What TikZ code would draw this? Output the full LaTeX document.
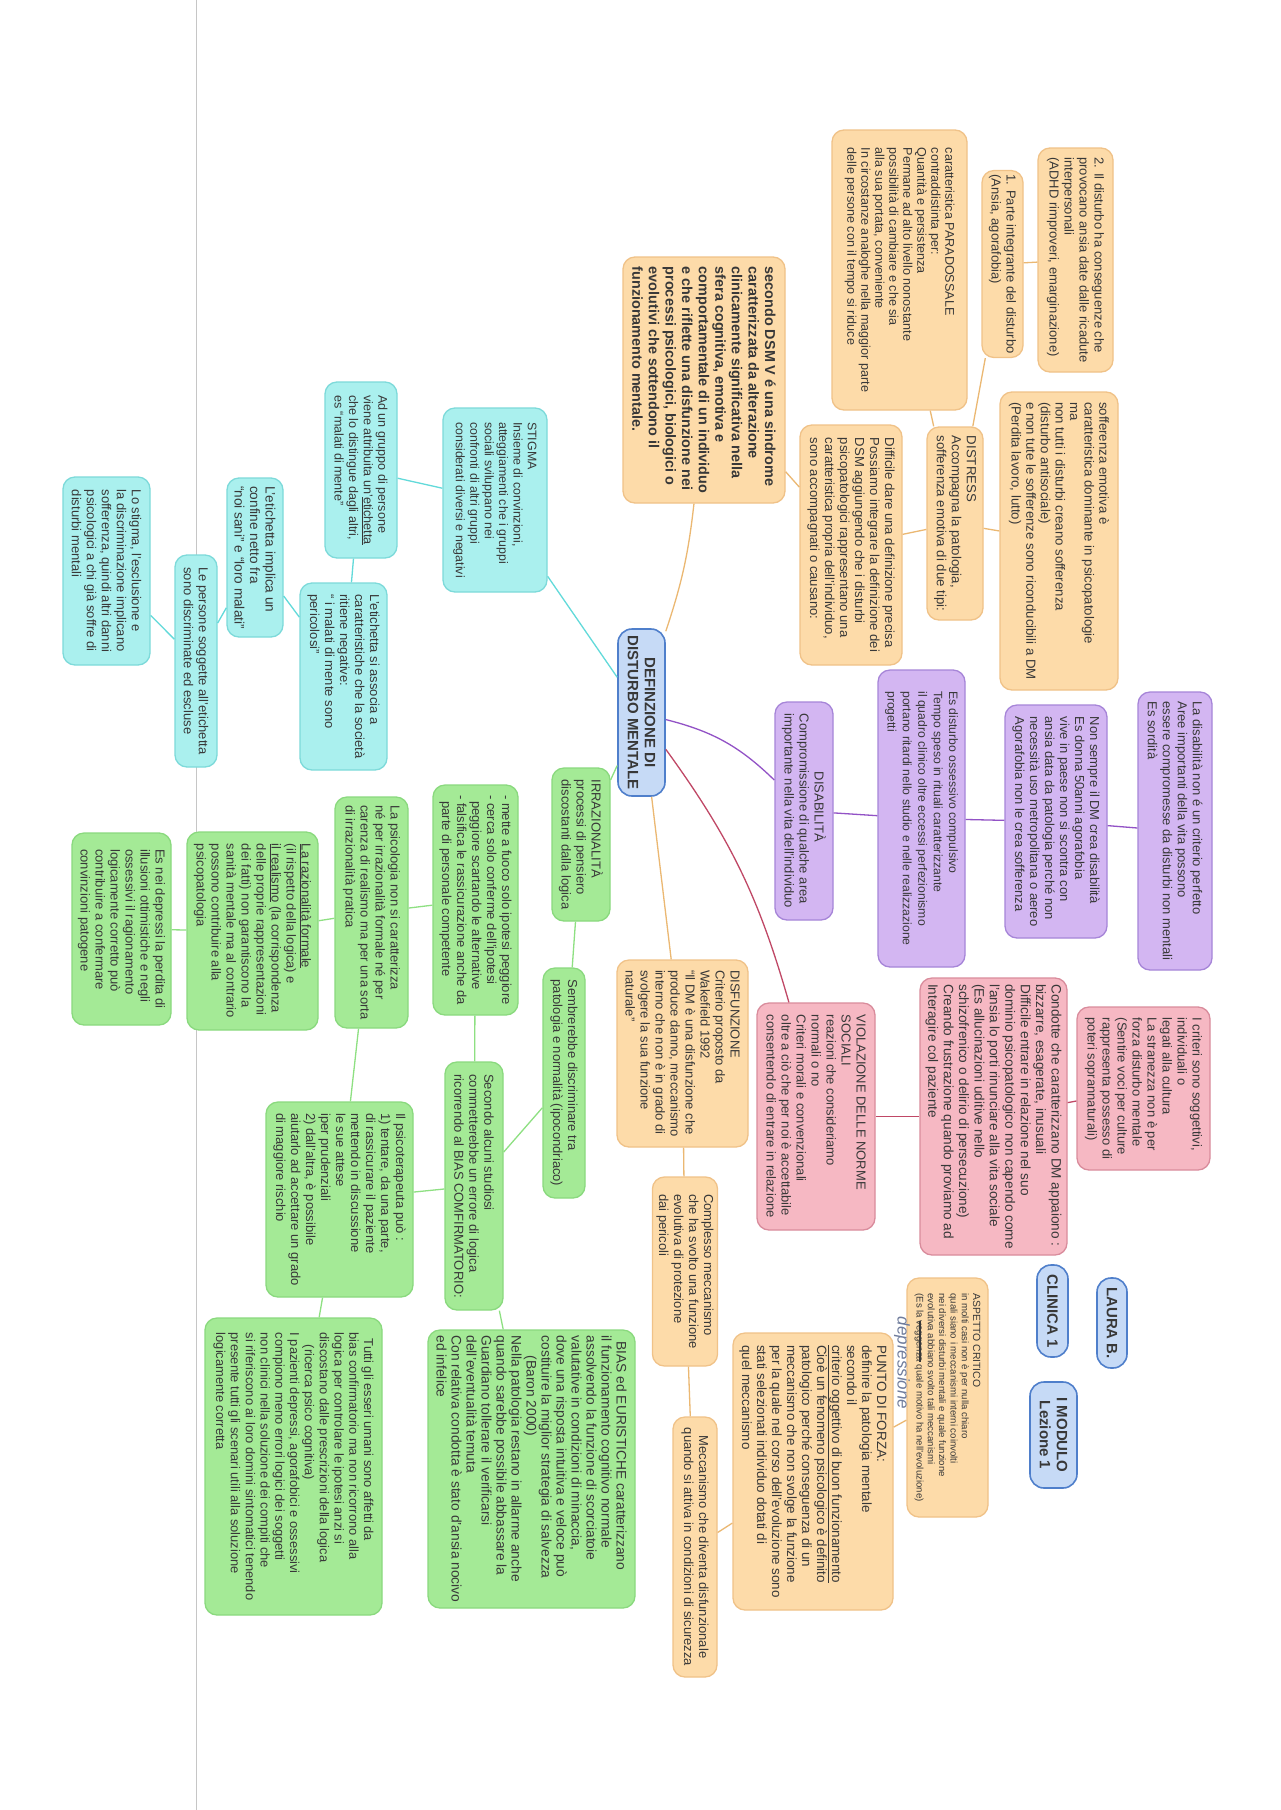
\documentclass[tikz,border=0pt]{standalone}
\usepackage{fontspec}
\setmainfont{Liberation Sans}
\usepackage{tikz}

\definecolor{ofill}{HTML}{FDDBA9}
\definecolor{oline}{HTML}{F0C288}
\definecolor{olk}{HTML}{EBB872}
\definecolor{pfill}{HTML}{D3B6F2}
\definecolor{pline}{HTML}{A685D8}
\definecolor{plk}{HTML}{9252C6}
\definecolor{rfill}{HTML}{F6B8C3}
\definecolor{rline}{HTML}{D98C9C}
\definecolor{rlk}{HTML}{C04866}
\definecolor{gfill}{HTML}{A4EA96}
\definecolor{gline}{HTML}{8AD97E}
\definecolor{glk}{HTML}{8EE082}
\definecolor{cfill}{HTML}{AAF0EE}
\definecolor{cline}{HTML}{7DDADA}
\definecolor{clk}{HTML}{62DADA}
\definecolor{bfill}{HTML}{C6DAF6}
\definecolor{bline}{HTML}{4F7FCB}
\definecolor{ink}{HTML}{383838}
\definecolor{pen}{HTML}{6F7C9C}

\newcommand{\boxfont}{\fontsize{13}{15}\selectfont}
\newsavebox{\strkbox}
\newcommand{\strk}[1]{\sbox{\strkbox}{#1}\rlap{\rule[0.28em]{\wd\strkbox}{1.2pt}}\usebox{\strkbox}}

\tikzset{
  fs/.style 2 args={font=\fontsize{#1}{#2}\selectfont},
  fsb/.style 2 args={font=\fontsize{#1}{#2}\selectfont\bfseries},
  box/.style={rotate=-90, rectangle, rounded corners=12pt, line width=1.3pt,
    align=left, inner sep=4pt, text=ink, font=\boxfont},
  obox/.style={box, fill=ofill, draw=oline},
  pbox/.style={box, fill=pfill, draw=pline},
  rbox/.style={box, fill=rfill, draw=rline},
  gbox/.style={box, fill=gfill, draw=gline},
  cbox/.style={box, fill=cfill, draw=cline},
  tbox/.style={box, fill=bfill, draw=bline, line width=1.6pt, align=center,
    rounded corners=14pt, fsb={15}{17}},
  olink/.style={draw=olk, line width=1.3pt},
  plink/.style={draw=plk, line width=1.3pt},
  rlink/.style={draw=rlk, line width=1.3pt},
  glink/.style={draw=glk, line width=1.3pt},
  clink/.style={draw=clk, line width=1.3pt},
}

\begin{document}
\begin{tikzpicture}[x=1pt,y=-1pt]
\fill[white] (0,0) rectangle (1280,1810);
\useasboundingbox (0,0) rectangle (1280,1810);
% faint scan line
\draw[gray!45, line width=0.8pt] (196,0) -- (196,1810);

% centre
\node[tbox, minimum width=167, minimum height=47] (centro) at (641.5,712.5) {DEFINZIONE DI\\DISTURBO MENTALE};

% labels
\node[tbox, minimum width=90, minimum height=30] (laura) at (1112,1323) {LAURA B.};
\node[tbox, minimum width=92, minimum height=31] (clinica) at (1052.5,1311) {CLINICA 1};
\node[tbox, minimum width=106, minimum height=47] (modulo) at (1053.5,1435) {I MODULO\\Lezione 1};

% orange branch: DSM
\node[obox, fsb={14.4}{16.6}, minimum width=246, minimum height=162] (dsm) at (704,380) {secondo DSM V é una sindrome\\caratterizzata da alterazione\\clinicamente significativa nella\\sfera cognitiva, emotiva e\\comportamentale di un individuo\\e che riflette una disfunzione nei\\processi psicologici, biologici o\\evolutivi che sottendono il\\funzionamento mentale.};
\node[obox, fs={13.1}{15}, minimum width=240, minimum height=102] (diffic) at (851,545) {Difficile dare una definizione precisa\\Possiamo integrare la definizione dei\\DSM aggiungendo che i disturbi\\psicopatologici rappresentano una\\caratteristica propria dell'individuo,\\sono accompagnati o causano:};
\node[obox, fs={13.2}{15}, minimum width=193, minimum height=56] (distress) at (955,523.5) {DISTRESS\\Accompagna la patologia,\\sofferenza emotiva di due tipi:};
\node[obox, fs={13.2}{14.6}, minimum width=298, minimum height=118] (soffer) at (1059,541) {sofferenza emotiva è\\caratteristica dominante in psicopatologie\\ma\\non tutti i disturbi creano sofferenza\\(disturbo antisociale)\\e non tute le sofferenze sono riconducibili a DM\\(Perdita lavoro, lutto)};
\node[obox, fs={12.6}{14}, minimum width=280, minimum height=135] (paradox) at (899.5,270) {caratteristica PARADOSSALE\\contraddistinta per:\\Quantità e persistenza\\Permane ad alto livello nonostante\\possibilità di cambiare e che sia\\alla sua portata, conveniente\\In circostanze analoghe nella maggior parte\\delle persone con il tempo si riduce};
\node[obox, minimum width=178, minimum height=41] (parte) at (1002.5,264) {1. Parte integrante del disturbo\\(Ansia, agorafobia)};
\node[obox, minimum width=224, minimum height=75] (ricadute) at (1075.5,260) {2. Il disturbo ha conseguenze che\\provocano ansia date dalle ricadute\\interpersonali\\(ADHD rimproveri, emarginazione)};

% orange branch: disfunzione
\node[obox, minimum width=187, minimum height=131] (disfunz) at (682.5,1053.5) {DISFUNZIONE\\Criterio proposto da\\Wakefield 1992\\“Il DM è una disfunzione che\\produce danno, meccanismo\\interno che non è in grado di\\svolgere la sua funzione\\naturale”};
\node[obox, minimum width=189, minimum height=64] (complesso) at (685,1271.5) {Complesso meccanismo\\che ha svolto una funzione\\evolutiva di protezione\\dai pericoli};
\node[obox, align=center, minimum width=260, minimum height=44] (meccdisf) at (695,1547) {Meccanismo che diventa disfunzionale\\quando si attiva in condizioni di sicurezza};
\node[obox, fs={13.4}{15}, minimum width=277, minimum height=160] (punto) at (813,1471.5) {PUNTO DI FORZA:\\definire la patologia mentale\\secondo il\\\underline{criterio oggettivo di buon funzionamento}\\Cioè un fenomeno psicologico è definito\\patologico perché conseguenza di un\\meccanismo che non svolge la funzione\\per la quale nel corso dell'evoluzione sono\\stati selezionati individuo dotati di\\quel meccanismo};
\node[obox, fs={9.6}{11.3}, minimum width=239, minimum height=81] (aspetto) at (947.5,1397.5) {{\fontsize{10.4}{11.3}\selectfont ASPETTO CRITICO}\\in molti casi non è per nulla chiaro\\quali siano i meccanismi interni coinvolti\\nei diversi disturbi mentali e quale funzione\\evolutiva abbiano svolto tali meccanismi\\(Es la \strk{veggenza} quale motivo ha nell'evoluzione)};
\node[rotate=-90, text=pen, font=\fontsize{17}{17}\selectfont\itshape] (nota) at (902,1363) {depressione};

% cyan branch: stigma
\node[cbox, fs={12.4}{14.4}, minimum width=184, minimum height=104] (stigma) at (495,500) {STIGMA\\Insieme di convinzioni,\\atteggiamenti che i gruppi\\sociali sviluppano nei\\confronti di altri gruppi\\considerati diversi e negativi};
\node[cbox, fs={12.6}{14.6}, minimum width=176, minimum height=72] (gruppo) at (361,470) {Ad un gruppo di persone\\viene attribuita un'\underline{etichetta}\\che lo distingue dagli altri,\\es “malati di mente”};
\node[cbox, minimum width=187, minimum height=87] (associa) at (343.5,676.5) {L'etichetta si associa a\\caratteristiche che la società\\ritiene negative:\\“ i malati di mente sono\\pericolosi”};
\node[cbox, fs={13.6}{15.6}, minimum width=159, minimum height=56] (implica) at (255,557.5) {L'etichetta implica un\\confine netto fra\\“noi sani” e “loro malati”};
\node[cbox, minimum width=212, minimum height=42] (escluse) at (196,661) {Le persone soggette all'etichetta\\sono discriminate ed escluse};
\node[cbox, minimum width=188, minimum height=87] (danni) at (106.5,571) {Lo stigma, l'esclusione e\\la discriminazione implicano\\sofferenza, quindi altri danni\\psicologici a chi già soffre di\\disturbi mentali};

% purple branch: disabilita
\node[pbox, minimum width=218, minimum height=58] (disab) at (804,811) {\hspace*{58pt}DISABILITÀ\\Compromissione di qualche area\\importante nella vita dell'individuo};
\node[pbox, fs={12.2}{15.4}, minimum width=297, minimum height=87] (ossess) at (921.5,818.5) {Es disturbo ossessivo compulsivo\\Tempo speso in rituali caratterizzante\\il quadro clinico oltre eccessi perfezionismo\\portano ritardi nello studio e nelle realizzazione\\progetti};
\node[pbox, minimum width=233, minimum height=102] (nonsempre) at (1056,821.5) {Non sempre il DM crea disabilità\\Es donna 50anni agorafobia\\vive in paese non si scontra con\\ansia data da patologia perché non\\necessità uso metropolitana o aereo\\Agorafobia non le crea sofferenza};
\node[pbox, minimum width=278, minimum height=74] (sordita) at (1175,831) {La disabilità non é un criterio perfetto\\Aree importanti della vita possono\\essere compromesse da disturbi non mentali\\Es sordità};

% red branch: norme sociali
\node[rbox, minimum width=227, minimum height=118] (violaz) at (816,1116.5) {VIOLAZIONE DELLE NORME\\SOCIALI\\reazioni che consideriamo\\normali o no\\Criteri morali e convenzionali\\oltre a ciò che per noi è accettabile\\consentendo di entrare in relazione};
\node[rbox, fs={13.6}{15.4}, minimum width=277, minimum height=147] (condotte) at (993.5,1116.5) {Condotte che caratterizzano DM appaiono :\\bizzarre, esagerate, inusuali\\Difficile entrare in relazione nel suo\\dominio psicopatologico non capendo come\\l'ansia lo porti rinunciare alla vita sociale\\(Es allucinazioni uditive nello\\schizofrenico o delirio di persecuzione)\\Creando frustrazione quando proviamo ad\\Interagire col paziente};
\node[rbox, minimum width=163, minimum height=133] (criteri) at (1143.5,1088.5) {I criteri sono soggettivi,\\individuali o\\legati alla cultura\\La stranezza non è per\\forza disturbo mentale\\(Sentire voci per culture\\rappresenta possesso di\\poteri soprannaturali)};

% green branch: irrazionalita
\node[gbox, minimum width=153, minimum height=58] (irraz) at (581,844.5) {IRRAZIONALITÀ\\processi di pensiero\\discostanti dalla logica};
\node[gbox, minimum width=230, minimum height=42] (sembra) at (564,1083) {Sembrerebbe discriminare tra\\patologia e normalità (ipocondriaco)};
\node[gbox, minimum width=248, minimum height=58] (secondo) at (474,1186) {Secondo alcuni studiosi\\commetterebbe un errore di logica\\ricorrendo al BIAS COMFIRMATORIO:};
\node[gbox, minimum width=230, minimum height=85] (mette) at (475.5,900) {- mette a fuoco solo ipotesi peggiore\\- cerca solo conferme dell'ipotesi\\\hspace*{6pt}peggiore scartando le alternative\\- falsifica le rassicurazione anche da\\\hspace*{6pt}parte di personale competente};
\node[gbox, minimum width=231, minimum height=73] (psicol) at (371.5,912.5) {La psicologia non si caratterizza\\né per irrazionalità formale né per\\carenza di realismo ma per una sorta\\di irrazionalità pratica};
\node[gbox, minimum width=198, minimum height=131] (razion) at (252.5,931) {\underline{La razionalità formale}\\(il rispetto della logica) e\\\underline{il realismo} (la corrispondenza\\delle proprie rappresentazioni\\dei fatti) non garantiscono la\\sanità mentale ma al contrario\\possono contribuire alla\\psicopatologia};
\node[gbox, minimum width=192, minimum height=99] (depressi) at (121.5,929) {Es nei depressi la perdita di\\illusioni ottimistiche e negli\\ossessivi il ragionamento\\logicamente corretto può\\contribuire a confermare\\convinzioni patogene};
\node[gbox, minimum width=195, minimum height=147] (terap) at (339.5,1199.5) {Il psicoterapeuta può :\\1) tentare, da una parte,\\di rassicurare il paziente\\mettendo in discussione\\le sue attese\\iper prudenziali\\2) dall'altra, è possibile\\aiutarlo ad accettare un grado\\di maggiore rischio};
\node[gbox, fs={13.8}{15}, minimum width=278, minimum height=207] (bias) at (531.5,1469) {\hspace*{6pt}BIAS ed EURISTICHE caratterizzano\\il funzionamento cognitivo normale\\assolvendo la funzione di scorciatoie\\valutative in condizioni di minaccia,\\dove una risposta intuitiva e veloce può\\costituire la miglior strategia di salvezza\\\hspace*{20pt}(Baron 2000)\\Nella patologia restano in allarme anche\\quando sarebbe possibile abbassare la\\Guardiano tollerare il verificarsi\\dell'eventualità temuta\\Con relativa condotta è stato d'ansia nocivo\\ed infelice};
\node[gbox, fs={12.9}{14.8}, minimum width=297, minimum height=177] (tutti) at (293.5,1466.5) {\hspace*{6pt}Tutti gli esseri umani sono affetti da\\bias confirmatorio ma non ricorrono alla\\logica per controlare le ipotesi anzi si\\discostano dalle prescrizioni della logica\\\hspace*{12pt}(ricerca psico cognitiva)\\I pazienti depressi, agorafobici e ossessivi\\compiono meno errori logici dei soggetti\\non clinici nella soluzione dei compiti che\\si riferiscono ai loro domini sintomatici tenendo\\presente tutti gli scenari utili alla soluzione\\logicamente corretta};

% connectors
\draw[olink] (centro) to[bend right=6] (dsm);
\draw[olink] (dsm) -- (diffic);
\draw[olink] (diffic) -- (distress);
\draw[olink] (distress) -- (paradox);
\draw[olink] (distress) -- (parte);
\draw[olink] (distress) -- (soffer);
\draw[olink] (parte) -- (ricadute);
\draw[olink] (centro) -- (disfunz);
\draw[olink] (disfunz) -- (complesso);
\draw[olink] (complesso) -- (meccdisf);
\draw[olink] (meccdisf) -- (punto);
\draw[olink] (punto) -- (aspetto);

\draw[clink] (centro) -- (stigma);
\draw[clink] (stigma) -- (gruppo);
\draw[clink] (gruppo) -- (associa);
\draw[clink] (associa) -- (implica);
\draw[clink] (implica) -- (escluse);
\draw[clink] (escluse) -- (danni);

\draw[plink] (centro) to[bend left=15] (disab);
\draw[plink] (disab) -- (ossess);
\draw[plink] (ossess) -- (nonsempre);
\draw[plink] (nonsempre) -- (sordita);

\draw[rlink] (centro) to[bend left=10] (violaz);
\draw[rlink] (violaz) -- (condotte);
\draw[rlink] (condotte) -- (criteri);

\draw[glink] (centro) -- (irraz);
\draw[glink] (irraz) -- (sembra);
\draw[glink] (sembra) -- (secondo);
\draw[glink] (secondo) -- (mette);
\draw[glink] (mette) -- (psicol);
\draw[glink] (psicol) -- (razion);
\draw[glink] (razion) -- (depressi);
\draw[glink] (psicol) -- (terap);
\draw[glink] (secondo) -- (terap);
\draw[glink] (secondo) -- (bias);
\draw[glink] (terap) -- (tutti);
\end{tikzpicture}
\end{document}
